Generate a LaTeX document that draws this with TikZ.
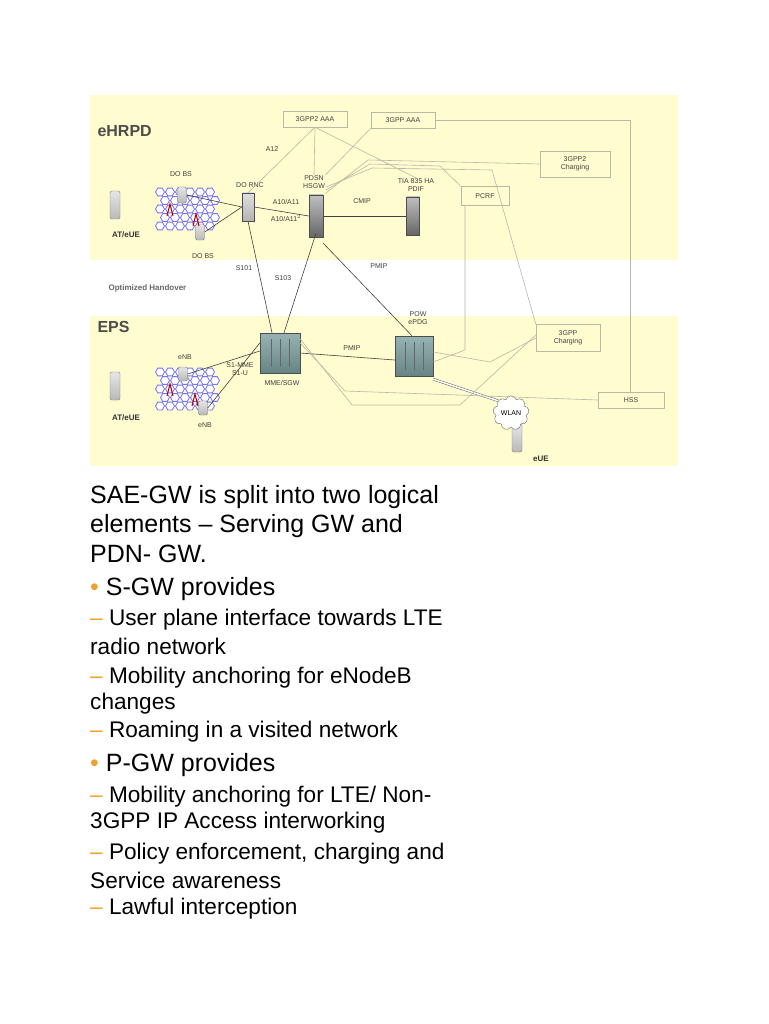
\documentclass[tikz,border=0pt]{standalone}
\usepackage{fontspec}
\setmainfont{Liberation Sans}
\usetikzlibrary{shapes.geometric,shapes.symbols,calc}
\definecolor{ylw}{HTML}{FFFCCF}
\definecolor{orng}{HTML}{F0A030}
\definecolor{lg}{HTML}{B8B8A8}
\tikzset{
 box/.style={draw=lg,fill=ylw,font=\fontsize{7}{8}\selectfont,text=black!75,align=center,inner sep=1pt},
 lbl/.style={font=\fontsize{7}{8}\selectfont,text=black!75,align=center,inner sep=0.5pt},
 ttl/.style={font=\bfseries\fontsize{16}{16}\selectfont,text=black!70,anchor=west},
 rack/.style={draw=black!70,top color=teal!35!gray!60,bottom color=teal!40!black!60,inner sep=0pt},
 phone/.style={draw=black!50,top color=gray!20,bottom color=gray!55,rounded corners=1.5pt,minimum width=10pt,minimum height=28pt,inner sep=0pt},
 ln/.style={draw=lg,line width=0.6pt},
 dk/.style={draw=black!75,line width=0.6pt},
 big/.style={font=\fontsize{25}{28}\selectfont,anchor=west,inner sep=0pt},
 sml/.style={font=\fontsize{22.6}{26}\selectfont,anchor=west,inner sep=0pt},
}
\newcommand{\hexgrid}[2]{%
 \foreach \i in {0,...,5}{\foreach \j in {0,...,4}{%
  \pgfmathsetmacro{\hx}{#1+\i*10+mod(\j,2)*5}\pgfmathsetmacro{\hy}{#2+\j*8.5}
  \node[regular polygon,regular polygon sides=6,draw=blue!55,fill=white,line width=0.8pt,minimum size=9pt,inner sep=0pt] at (\hx,\hy) {};}}}
\begin{document}
\begin{tikzpicture}[x=1pt,y=-1pt]
\useasboundingbox (0,0) rectangle (768,1024);
\fill[white] (0,0) rectangle (768,1024);
\fill[ylw] (90,95) rectangle (678,260);
\fill[ylw] (90,316) rectangle (678,466);
% titles
\node[ttl] (teh) at (94,131) {eHRPD};
\node[ttl] (teps) at (94,327) {EPS};
\node[font=\bfseries\fontsize{8}{9}\selectfont,text=black!60,anchor=west] (toh) at (105,288) {Optimized Handover};
% boxes
\node[box,minimum width=64pt,minimum height=16pt] (aaa2) at (315,119) {3GPP2 AAA};
\node[box,minimum width=64pt,minimum height=16pt] (aaa) at (403,120) {3GPP AAA};
\node[box,minimum width=70pt,minimum height=26pt] (chg2) at (575,164) {3GPP2\\Charging};
\node[box,minimum width=48pt,minimum height=19pt] (pcrf) at (485,196) {PCRF};
\node[box,minimum width=64pt,minimum height=27pt] (chg) at (568,338) {3GPP\\Charging};
\node[box,minimum width=66pt,minimum height=16pt] (hss) at (631,400) {HSS};
% servers
\node[rack,minimum width=12pt,minimum height=28pt,top color=gray!25,bottom color=gray!60] (rnc) at (248,207) {};
\node[rack,minimum width=14pt,minimum height=42pt,top color=gray!50,bottom color=black!60] (pdsn) at (316,216) {};
\node[rack,minimum width=13pt,minimum height=38pt,top color=gray!50,bottom color=black!60] (pdif) at (413,216) {};
\node[rack,minimum width=40pt,minimum height=40pt] (mme) at (280,353) {};
\node[rack,minimum width=38pt,minimum height=40pt] (pgw) at (414,356) {};
\foreach \n in {mme,pgw}{\foreach \k in {-0.3,0,0.3}{\draw[black!60] ($(\n.north)!0.5!(\n.south)$) ++(\k*30,-14) -- ++(0,28);}}
% labels
\node[lbl] (lbs1) at (181,174) {DO BS};
\node[lbl] (lbs2) at (203,256) {DO BS};
\node[lbl] (lrnc) at (250,185) {DO RNC};
\node[lbl] (lpdsn) at (314,182) {PDSN\\HSGW};
\node[lbl] (lpdif) at (416,185) {TIA 835 HA\\PDIF};
\node[lbl] (la12) at (272,149) {A12};
\node[lbl] (la10) at (286,202) {A10/A11};
\node[lbl] (la10b) at (286,218) {A10/A11$^{2}$};
\node[lbl] (lcmip) at (362,201) {CMIP};
\node[lbl] (ls101) at (244,268) {S101};
\node[lbl] (ls103) at (283,278) {S103};
\node[lbl] (lpmip1) at (379,266) {PMIP};
\node[lbl] (lpow) at (418,318) {POW\\ePDG};
\node[lbl] (lpmip2) at (352,348) {PMIP};
\node[lbl] (lmme) at (282,383) {MME/SGW};
\node[lbl] (lenb1) at (185,357) {eNB};
\node[lbl] (lenb2) at (205,425) {eNB};
\node[lbl] (ls1) at (240,369) {S1-MME\\S1-U};
\node[font=\bfseries\fontsize{8}{9}\selectfont,text=black!80] (lat1) at (126,235) {AT/eUE};
\node[font=\bfseries\fontsize{8}{9}\selectfont,text=black!80] (lat2) at (126,418) {AT/eUE};
\node[font=\bfseries\fontsize{8}{9}\selectfont,text=black!80] (leue) at (541,459) {eUE};
% phones
\node[phone] (ph1) at (115,205) {};
\node[phone] (ph2) at (115,386) {};
\node[phone] (ph3) at (517,438) {};
% hex grids
\hexgrid{160}{192}
\hexgrid{160}{372}
\node[phone,minimum height=16pt,minimum width=9pt] (bs1) at (182,195) {};
\node[phone,minimum height=16pt,minimum width=9pt] (bs2) at (200,232) {};
\node[phone,minimum height=14pt,minimum width=9pt] (enb1) at (183,374) {};
\node[phone,minimum height=14pt,minimum width=9pt] (enb2) at (203,408) {};
\foreach \p in {(170,210),(196,220),(170,390),(195,400)}{\draw[red!70!black,line width=1pt] \p ++(-3,6) -- ++(3,-12) -- ++(3,12);}
% cloud
\node[cloud,cloud puffs=9,draw=black!60,fill=white,minimum width=36pt,minimum height=22pt,inner sep=0pt,font=\fontsize{7}{8}\selectfont] (wlan) at (511,413) {WLAN};
% connectors dark
\draw[dk] (bs1.east) -- (rnc.west);
\draw[dk] (bs2.east) -- (rnc.west);
\draw[dk] (rnc.east) -- (pdsn.west);
\draw[dk] (pdsn.east) -- (pdif.west);
\draw[dk] (rnc.south) -- ([xshift=-8pt]mme.north);
\draw[dk] ([yshift=4pt]pdsn.south) -- ([xshift=4pt]mme.north);
\draw[dk] ([yshift=-6pt]pdsn.south east) -- ([xshift=-2pt]pgw.north);
\draw[dk] (enb1.east) -- ([yshift=2pt]mme.west);
\draw[dk] (enb2.east) -- ([yshift=10pt]mme.west);
\draw[dk] (mme.east) -- ([yshift=-4pt]pgw.west);
\draw[black!60,double=white,double distance=1.5pt,line width=0.5pt] ([yshift=-3pt]pgw.south east) -- (wlan.north west);
% connectors light
\draw[ln] (aaa2.south) -- (rnc.north);
\draw[ln] (aaa2.south) -- (lpdsn.north);
\draw[ln] (aaa2.south) -- (lpdif.north);
\draw[ln] (aaa.south west) -- (lpdsn.north east);
\draw[ln] (aaa.east) -- (630,120) -- (hss.north -| 630,0);
\draw[ln] ([yshift=-4pt]lpdsn.south east) -- (368,160) -- (chg2.west);
\draw[ln] ([yshift=-1pt]lpdsn.south east) -- (370,164) -- (440,166) -- (pcrf.north west);
\draw[ln] ([yshift=2pt]lpdsn.south east) -- (372,168) -- (492,170) -- (chg.north west);
\draw[ln] ([xshift=-20pt]pcrf.south) -- (465,350) -- ([yshift=-6pt]pgw.east);
\draw[ln] ([yshift=4pt]pgw.east) -- (490,362) -- (chg.west);
\draw[ln] ([yshift=10pt]mme.east) -- (345,391) -- (hss.west);
\draw[ln] ([yshift=14pt]mme.east) -- (352,405) -- (460,405) -- ([yshift=3pt]chg.west);
% body text
\node[big] (t1) at (90,497) {SAE-GW is split into two logical};
\node[big] (t2) at (90,526) {elements – Serving GW and};
\node[big] (t3) at (90,554) {PDN- GW.};
\node[big] (t4) at (90,589) {\textcolor{orng}{•} S-GW provides};
\node[sml] (t5) at (90,620) {\textcolor{orng}{–} User plane interface towards LTE};
\node[sml] (t6) at (90,646) {radio network};
\node[sml] (t7) at (90,678) {\textcolor{orng}{–} Mobility anchoring for eNodeB};
\node[sml] (t8) at (90,704) {changes};
\node[sml] (t9) at (90,732) {\textcolor{orng}{–} Roaming in a visited network};
\node[big] (t10) at (90,765) {\textcolor{orng}{•} P-GW provides};
\node[sml] (t11) at (90,797) {\textcolor{orng}{–} Mobility anchoring for LTE/ Non-};
\node[sml] (t12) at (90,823) {3GPP IP Access interworking};
\node[sml] (t13) at (90,854) {\textcolor{orng}{–} Policy enforcement, charging and};
\node[sml] (t14) at (90,880) {Service awareness};
\node[sml] (t15) at (90,909) {\textcolor{orng}{–} Lawful interception};
\end{tikzpicture}
\end{document}
